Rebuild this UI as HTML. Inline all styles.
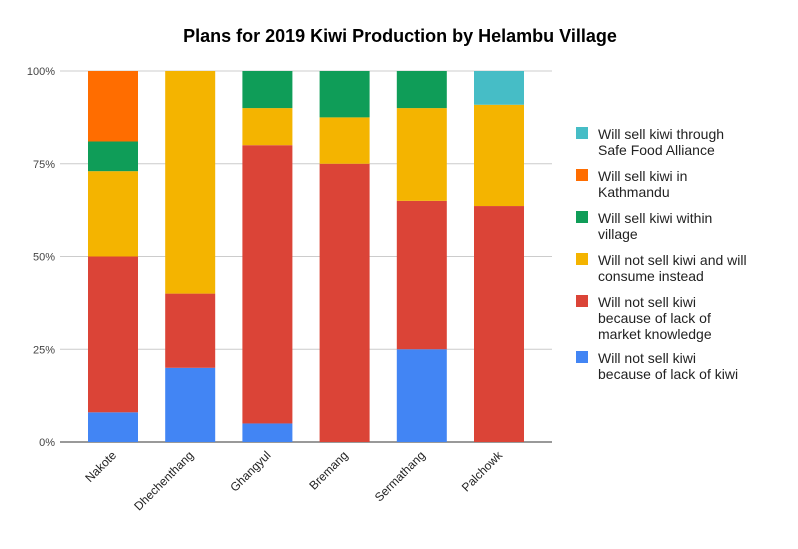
<!DOCTYPE html>
<html><head><meta charset="utf-8"><style>
body{margin:0;background:#fff;font-family:"Liberation Sans",Arial,sans-serif}
</style></head><body>
<svg id="chart" width="798" height="544" xmlns="http://www.w3.org/2000/svg">
<rect width="798" height="544" fill="#fff"/>
<text x="400" y="42" text-anchor="middle" font-size="18" font-weight="bold" fill="#000">Plans for 2019 Kiwi Production by Helambu Village</text>
<g id="grid"></g><g id="bars"></g><g id="xl"></g><g id="legend"></g>
</svg>
<script>
const categories=["Nakote","Dhechenthang","Ghangyul","Bremang","Sermathang","Palchowk"];
const lackKiwi=[8,20,5,0,25,0];
const lackMarket=[42,20,75,75,40,63.6];
const consume=[23,60,10,12.5,25,27.3];
const withinVillage=[8,0,10,12.5,10,0];
const kathmandu=[19,0,0,0,0,0];
const safeFood=[0,0,0,0,0,9.1];
const yTicks=[0,25,50,75,100];
const yTickLabels=["0%","25%","50%","75%","100%"];
const series=[lackKiwi,lackMarket,consume,withinVillage,kathmandu,safeFood];
const colors=["#4285f4","#db4437","#f4b400","#0f9d58","#ff6d00","#46bdc6"];
const NS="http://www.w3.org/2000/svg";
const L=60,R=552,T=71,B=442,bw=50,BL=74.4,BR=537.6;
const y=v=>B-(B-T)*v/100;
const xc=i=>BL+(BR-BL)*(i+0.5)/categories.length;
function mk(tag,at,par){const e=document.createElementNS(NS,tag);for(const k in at)e.setAttribute(k,at[k]);document.getElementById(par).appendChild(e);return e;}
yTicks.forEach((t,i)=>{
 const ln=mk("line",{x1:L,x2:R,y1:y(t),y2:y(t),stroke:t==0?"#333":"#ccc","stroke-width":1},"grid");
 
 
 const tx=mk("text",{x:L-5,y:y(t)+4,"text-anchor":"end","font-size":11,fill:"#444"},"grid");
 tx.textContent=yTickLabels[i];
 
 
});
categories.forEach((c,i)=>{
 let acc=0;
 series.forEach((s,j)=>{
  const v=s[i]; if(!v)return;
  const r=mk("rect",{x:xc(i)-bw/2,y:y(acc+v),width:bw,height:y(acc)-y(acc+v),fill:colors[j]},"bars");
  
  
  acc+=v;
 });
 const tx=mk("text",{x:xc(i)+4,y:B+14,"text-anchor":"end","font-size":12,fill:"#222",transform:`rotate(-45 ${xc(i)+4} ${B+14})`},"xl");
 tx.textContent=c;
 
 
});
const legLines=[["Will sell kiwi through","Safe Food Alliance"],["Will sell kiwi in","Kathmandu"],["Will sell kiwi within","village"],["Will not sell kiwi and will","consume instead"],["Will not sell kiwi","because of lack of","market knowledge"],["Will not sell kiwi","because of lack of kiwi"]];
const legTop=[137,179,221,263,305,361];
legLines.forEach((ls,k)=>{
 const j=5-k;
 const sw=mk("rect",{x:576,y:legTop[k]-10,width:12,height:12,fill:colors[j]},"legend");
 
 
 ls.forEach((t,m)=>{
  const tx=mk("text",{x:598,y:legTop[k]+2+m*16,"font-size":14,fill:"#222"},"legend");
  tx.textContent=t;
  
  
 });
});
</script>
</body></html>
